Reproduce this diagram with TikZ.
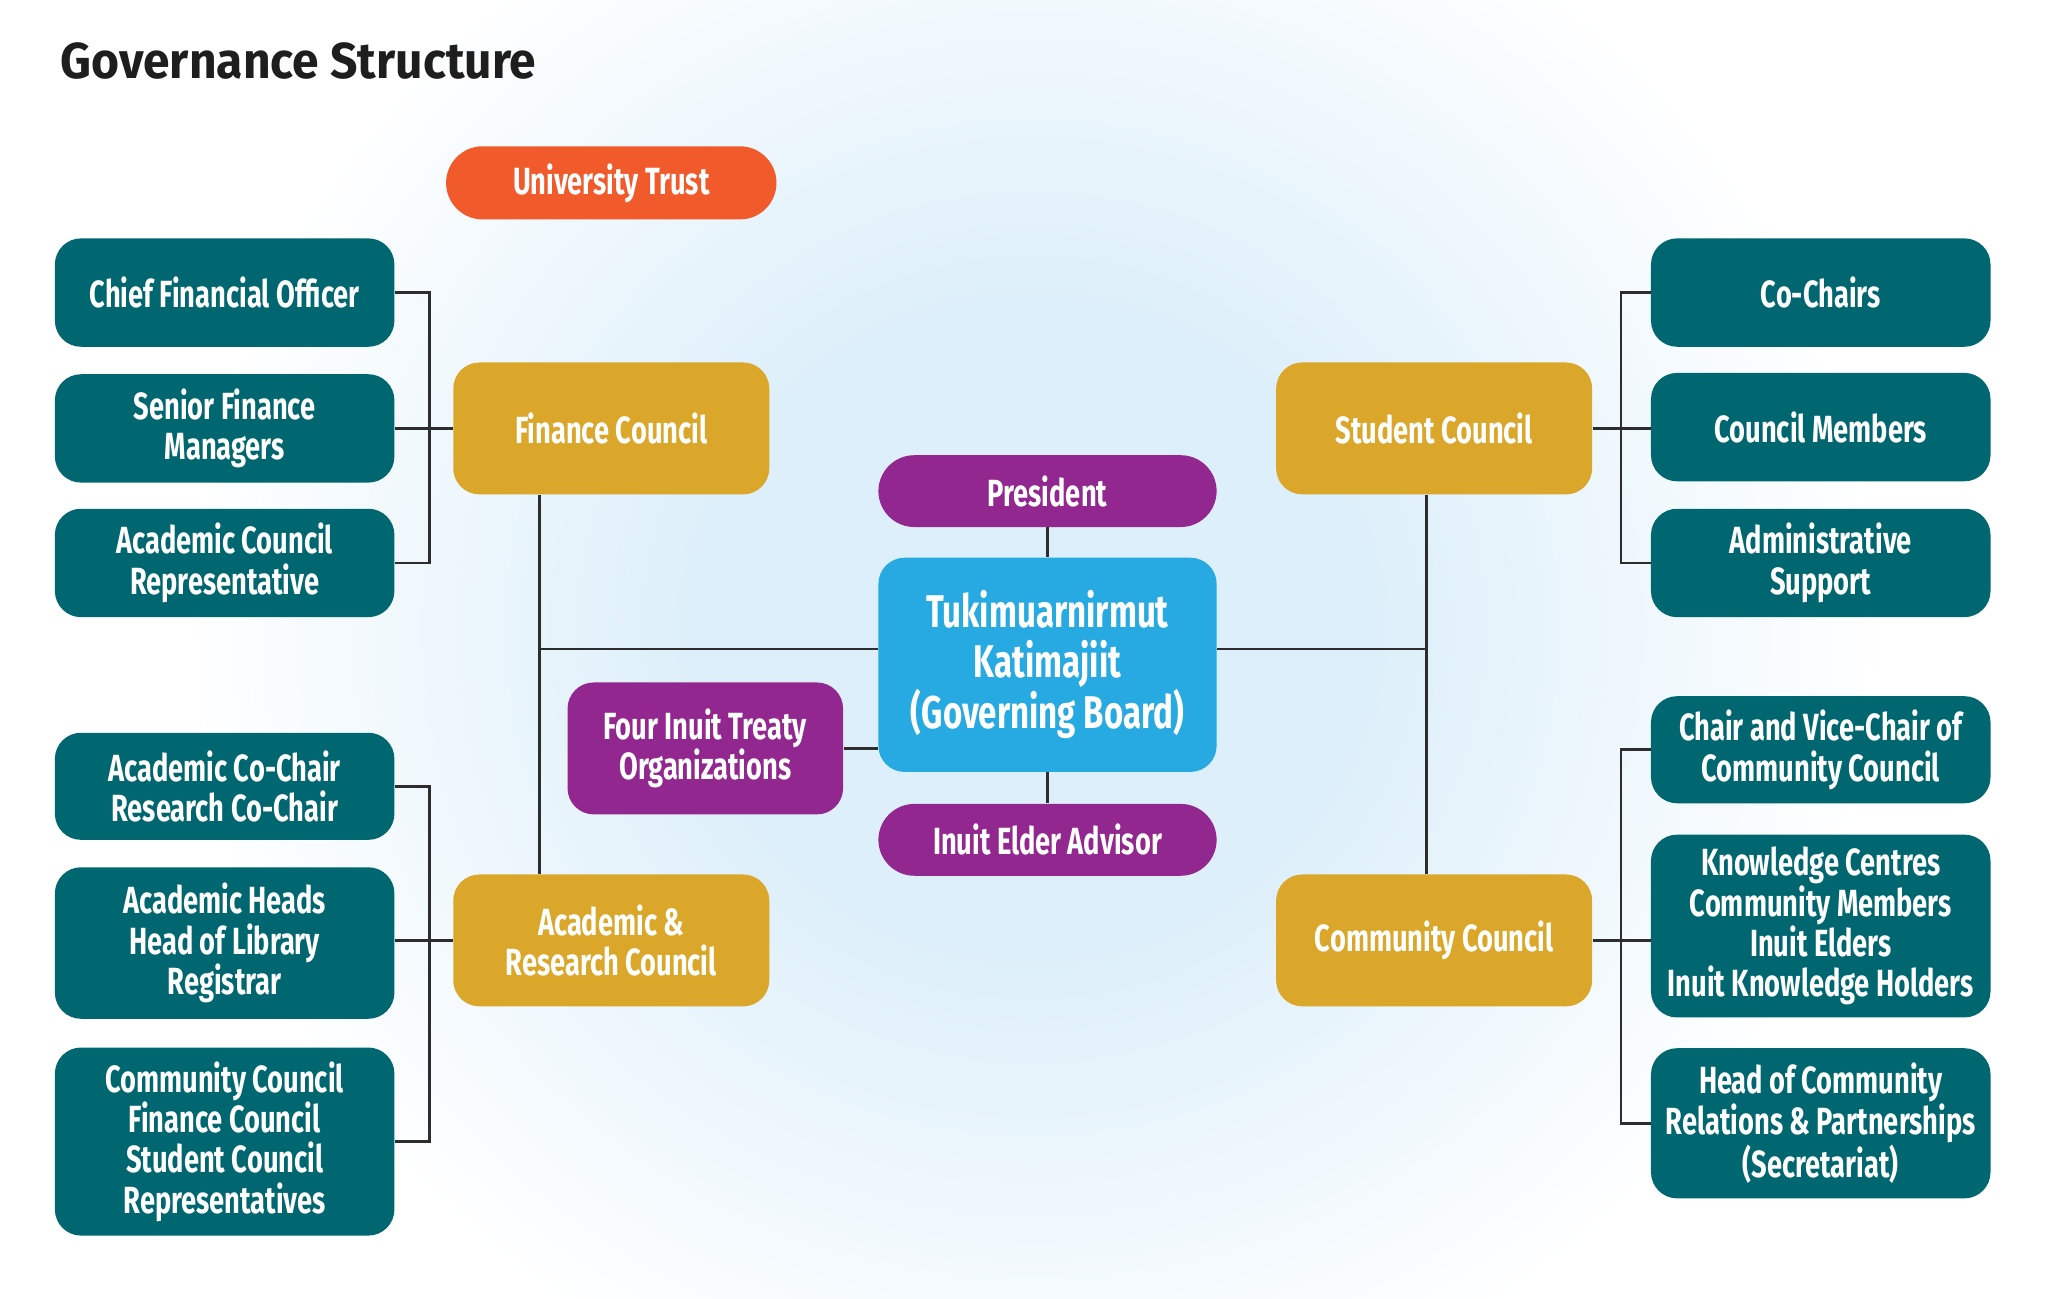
\documentclass[tikz,border=0pt]{standalone}
\usepackage{fontspec}
\setmainfont{Fira Sans}
\newfontfamily\cond{Fira Sans}[FakeStretch=0.72]
\newfontfamily\titlefont{Fira Sans}[FakeStretch=0.95]
\definecolor{tealc}{RGB}{0,103,112}
\definecolor{goldc}{RGB}{218,167,42}
\definecolor{orangec}{RGB}{241,90,43}
\definecolor{purplec}{RGB}{146,39,143}
\definecolor{bluec}{RGB}{39,169,225}
\definecolor{linec}{RGB}{45,45,45}
\definecolor{bgblue}{RGB}{221,239,250}
\definecolor{titlec}{RGB}{30,30,30}
\pgfdeclareradialshading{glow}{\pgfpoint{0bp}{0bp}}{color(0bp)=(bgblue); color(10bp)=(bgblue); color(25bp)=(white); color(50bp)=(white)}
\begin{document}
\begin{tikzpicture}[x=0.02cm,y=-0.02cm,
  box/.style={rounded corners=0.4cm, text=white, align=center, inner sep=0pt,
    font=\cond\bfseries\fontsize{16.5}{17.6}\selectfont},
  tealbox/.style={box, fill=tealc, minimum width=5.2cm},
  goldbox/.style={box, fill=goldc, minimum width=4.84cm, minimum height=2.02cm},
  pill/.style={box, rounded corners=0.55cm, minimum width=5.18cm, minimum height=1.1cm},
  conn/.style={draw=linec, line width=1.1pt}]
\fill[white] (0,0) rectangle (1568,994);
\begin{scope}
\clip (0,0) rectangle (1568,994);
\shade[shading=glow] (790,480) ellipse [x radius=13cm, y radius=12.5cm];
\end{scope}
\useasboundingbox (0,0) rectangle (1568,994);

\node[anchor=base west, inner sep=0pt, text=titlec, font=\titlefont\bfseries\fontsize{22}{25}\selectfont] (title) at (46,60) {Governance Structure};

\node[pill, fill=orangec, minimum width=5.06cm, minimum height=1.12cm, rounded corners=0.56cm] (trust) at (468,140) {University Trust};

% left teal boxes
\node[tealbox, minimum height=1.66cm] (cfo) at (172,224) {Chief Financial Officer};
\node[tealbox, minimum height=1.66cm] (sfm) at (172,328) {Senior Finance\\Managers};
\node[tealbox, minimum height=1.66cm] (acr) at (172,431) {Academic Council\\Representative};
\node[tealbox, minimum height=1.64cm] (acc) at (172,602) {Academic Co-Chair\\Research Co-Chair};
\node[tealbox, minimum height=2.32cm] (ahl) at (172,722) {Academic Heads\\Head of Library\\Registrar};
\node[tealbox, minimum height=2.88cm] (ccf) at (172,874) {Community Council\\Finance Council\\Student Council\\Representatives};

% councils
\node[goldbox] (fin) at (468,328) {Finance Council};
\node[goldbox] (acad) at (468,720) {Academic \&\\Research Council};
\node[goldbox] (stu) at (1098,328) {Student Council};
\node[goldbox] (com) at (1098,720) {Community Council};

% centre
\node[pill, fill=purplec] (pres) at (802,376) {President};
\node[box, fill=bluec, minimum width=5.18cm, minimum height=3.28cm,
  font=\cond\bfseries\fontsize{20}{21.5}\selectfont] (gb) at (802,509) {Tukimuarnirmut\\Katimajiit\\(Governing Board)};
\node[pill, fill=purplec] (elder) at (802,643) {Inuit Elder Advisor};
\node[box, fill=purplec, minimum width=4.22cm, minimum height=2.02cm] (fito) at (540,573) {Four Inuit Treaty\\Organizations};

% right teal boxes
\node[tealbox, minimum height=1.66cm] (cochairs) at (1394,224) {Co-Chairs};
\node[tealbox, minimum height=1.66cm] (cmem) at (1394,327) {Council Members};
\node[tealbox, minimum height=1.66cm] (adm) at (1394,431) {Administrative\\Support};
\node[tealbox, minimum height=1.64cm] (chair) at (1394,574) {Chair and Vice-Chair of\\Community Council};
\node[tealbox, minimum height=2.8cm] (know) at (1394,709) {Knowledge Centres\\Community Members\\Inuit Elders\\Inuit Knowledge Holders};
\node[tealbox, minimum height=2.3cm] (head) at (1394,860) {Head of Community\\Relations \& Partnerships\\(Secretariat)};

% helper coordinates
\coordinate (lbx) at (329,0);
\coordinate (fvx) at (413,0);
\coordinate (hy) at (0,497);
\coordinate (rvx) at (1092,0);
\coordinate (rbx) at (1241,0);

% connectors
\draw[conn] (cfo.east) -- (cfo.east -| lbx) |- (acr.east);
\draw[conn] (sfm.east) -- (fin.west);
\draw[conn] (acc.east) -- (acc.east -| lbx) |- (ccf.east);
\draw[conn] (acad.west) -- (acad.west -| ahl.east);
\draw[conn] (fin.south -| fvx) -- (acad.north -| fvx);
\draw[conn] (fvx |- hy) -- (gb.west |- hy);
\draw[conn] (fito.east) -- (fito.east -| gb.west);
\draw[conn] (pres.south) -- (gb.north);
\draw[conn] (gb.south) -- (elder.north);
\draw[conn] (gb.east |- hy) -- (rvx |- hy);
\draw[conn] (stu.south -| rvx) -- (com.north -| rvx);
\draw[conn] (stu.east) -- (stu.east -| cmem.west);
\draw[conn] (cochairs.west) -- (cochairs.west -| rbx) |- (adm.west);
\draw[conn] (chair.west) -- (chair.west -| rbx) |- (head.west);
\draw[conn] (com.east) -- (com.east -| know.west);
\end{tikzpicture}
\end{document}
